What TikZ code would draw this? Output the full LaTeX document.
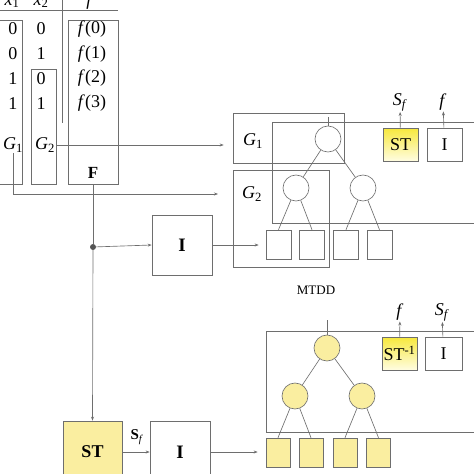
\documentclass[tikz,border=0pt]{standalone}
\usepackage{fontspec}
\setmainfont{Liberation Serif}
\usetikzlibrary{arrows.meta}
\definecolor{linegray}{RGB}{110,110,110}
\definecolor{dotgray}{RGB}{85,85,85}
\definecolor{leafyellow}{RGB}{250,238,160}
\definecolor{styellow}{RGB}{247,232,60}
\definecolor{stpale}{RGB}{255,253,225}
\tikzset{
  frame/.style={draw=linegray, line width=.65pt},
  box/.style={draw=linegray, line width=.65pt, rectangle, inner sep=0pt},
  vtx/.style={draw=linegray, line width=.65pt, circle, inner sep=0pt, minimum size=26pt},
  tleaf/.style={box, minimum width=25pt, minimum height=29pt},
  tab/.style={font=\fontsize{18}{20}\selectfont, inner sep=1pt},
  small/.style={font=\fontsize{18}{20}\selectfont, inner sep=1pt}
}
\begin{document}
\begin{tikzpicture}[x=1pt,y=-1pt,>={Stealth[length=4pt,width=3pt]}]
\clip (0,0) rectangle (474,474);
% truth table
\draw[frame] (-10,20) rectangle (22,184);
\draw[frame] (31,69) rectangle (56,184);
\node[box, minimum width=50pt, minimum height=164pt] (fbox) at (93,102) {};
\draw[frame] (0,10) -- (118,10);
\draw[frame] (62,0) -- (62,123);
\node[tab, anchor=base] (hx1) at (12,5) {\textit{x}\textsubscript{1}};
\node[tab, anchor=base] (hx2) at (41,5) {\textit{x}\textsubscript{2}};
\node[tab, anchor=base] (hf) at (90,5) {\textit{f}};
\foreach \a/\b [count=\k from 0] in {0/0,0/1,1/0,1/1}
{
\node[tab] (ra\k) at (13,29+24.7*\k) {\a};
\node[tab] (rb\k) at (41,29+24.7*\k) {\b};
\node[tab] (rf\k) at (92,29+24.7*\k) {\textit{f}(\k)};
}
\node[tab] (lg1) at (13,145) {\textit{G}\textsubscript{1}};
\node[tab] (lg2) at (45,145) {\textit{G}\textsubscript{2}};
\node[tab, font=\fontsize{17}{19}\selectfont\bfseries] (lf) at (93,173) {F};
% MTDD
\node[box, minimum width=111pt, minimum height=50pt] (mg1) at (288.5,138) {};
\node[tab] (mg1lbl) at (253,141) {\textit{G}\textsubscript{1}};
\node[box, minimum width=96pt, minimum height=97pt] (mg2) at (281,218.5) {};
\node[tab] (mg2lbl) at (252,194) {\textit{G}\textsubscript{2}};
\draw[frame] (272,122) rectangle (490,223);
\node[vtx] (ta) at (328,139) {};
\node[vtx] (tb) at (296,188) {};
\node[vtx] (tc) at (363,188) {};
\node[tleaf] (tl1) at (278.5,244.5) {};
\node[tleaf] (tl2) at (312,244.5) {};
\node[tleaf] (tl3) at (346,244.5) {};
\node[tleaf] (tl4) at (379.5,244.5) {};
\draw[frame] (ta.north) -- ++(0,-9);
\draw[frame] (ta) -- (tb);
\draw[frame] (ta) -- (tc);
\draw[frame] (tb) -- (tl1.north);
\draw[frame] (tb) -- (tl2.north);
\draw[frame] (tc) -- (tl3.north);
\draw[frame] (tc) -- (tl4.north);
\node[box, small, top color=styellow, bottom color=stpale, minimum width=35pt, minimum height=33pt] (sta) at (400.5,144.5) {ST};
\node[box, small, minimum width=35pt, minimum height=33pt] (ia) at (444.5,144.5) {I};
\node[small] (sfa) at (400,102) {\textit{S}\textsubscript{\textit{f}}};
\node[small] (fa) at (443,102) {\textit{f}};
\draw[frame,->] (sta) -- (sfa);
\draw[frame,->] (ia) -- (fa);
\node[font=\fontsize{13}{15}\selectfont] (mtdd) at (316,290) {MTDD};
% bottom MTDD
\draw[frame] (266,331) rectangle (490,432);
\node[vtx, fill=leafyellow] (ba) at (327,348) {};
\node[vtx, fill=leafyellow] (bb) at (295,396) {};
\node[vtx, fill=leafyellow] (bc) at (362,396) {};
\node[tleaf, fill=leafyellow, minimum width=24pt] (bl1) at (278,452.5) {};
\node[tleaf, fill=leafyellow, minimum width=24pt] (bl2) at (311,452.5) {};
\node[tleaf, fill=leafyellow, minimum width=24pt] (bl3) at (345,452.5) {};
\node[tleaf, fill=leafyellow, minimum width=24pt] (bl4) at (378.5,452.5) {};
\draw[frame] (ba.north) -- ++(0,-15);
\draw[frame] (ba) -- (bb);
\draw[frame] (ba) -- (bc);
\draw[frame] (bb) -- (bl1.north);
\draw[frame] (bb) -- (bl2.north);
\draw[frame] (bc) -- (bl3.north);
\draw[frame] (bc) -- (bl4.north);
\node[box, small, top color=styellow, bottom color=stpale, minimum width=35pt, minimum height=33pt] (stb) at (399.5,353.5) {ST\textsuperscript{-1}};
\node[box, small, minimum width=37pt, minimum height=33pt] (ib) at (443.5,353.5) {I};
\node[small] (fb) at (400,312) {\textit{f}};
\node[small] (sfb) at (442,312) {\textit{S}\textsubscript{\textit{f}}};
\draw[frame,->] (stb) -- (fb);
\draw[frame,->] (ib) -- (sfb);
% flow
\node[circle, fill=dotgray, inner sep=0pt, minimum size=6pt] (split) at (93,247) {};
\node[box, font=\fontsize{19}{21}\selectfont\bfseries, minimum width=60pt, minimum height=60pt] (itop) at (182,245) {I};
\node[box, fill=leafyellow, font=\fontsize{18}{20}\selectfont\bfseries, minimum width=59pt, minimum height=62pt] (stlow) at (92.5,452) {ST};
\node[box, font=\fontsize{19}{21}\selectfont\bfseries, minimum width=60pt, minimum height=62pt] (ilow) at (180,452) {I};
\node[font=\fontsize{15}{17}\selectfont, inner sep=1pt] (sflow) at (137,437) {\textbf{S}\textsubscript{\textit{f}}};
\draw[frame,->, shorten >=9pt] (lg2.east) -- (lg2.east -| mg1.west);
\coordinate (g2in) at (218,194);
\draw[frame,->] (lg1.south) |- (g2in);
\draw[frame] (fbox.south) -- (split);
\draw[frame,->] (split) -- (itop.west);
\draw[frame,->] (split) -- (stlow.north);
\draw[frame,->, shorten >=7pt] (itop.east) -- (itop.east -| tl1.west);
\draw[frame,->] (stlow.east) -- (ilow.west);
\draw[frame,->, shorten >=8pt] (ilow.east) -- (ilow.east -| bl1.west);
\end{tikzpicture}
\end{document}
